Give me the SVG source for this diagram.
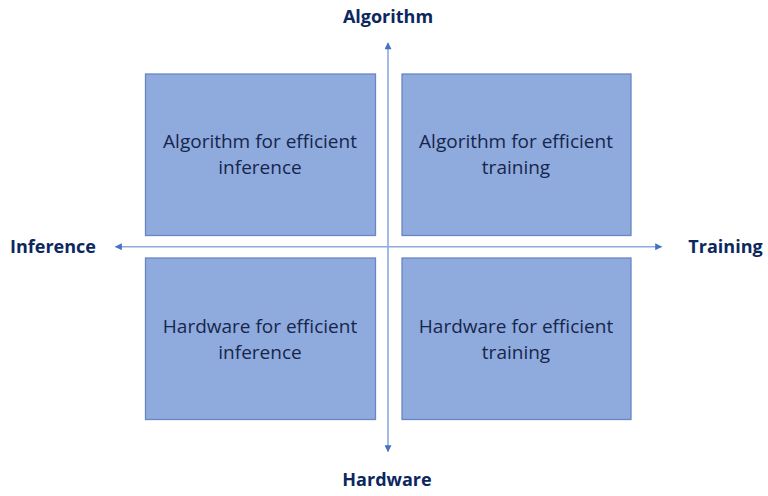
<svg xmlns="http://www.w3.org/2000/svg" width="768" height="496" viewBox="0 0 768 496">
<style>
.box{fill:#8FAADC;stroke:#6A86C2;stroke-width:1.3}
.bt{font-family:"Open Sans","Liberation Sans",sans-serif;font-size:19px;fill:#15264D;text-anchor:middle}
.lbl{font-family:"Open Sans","Liberation Sans",sans-serif;font-size:18px;font-weight:bold;fill:#0C2760;text-anchor:middle}
.ax{stroke:#8FAADC;stroke-width:1.6;fill:none}
</style>
<defs>
<marker id="ah" viewBox="0 0 10 10" refX="9" refY="5" markerWidth="8" markerHeight="7" markerUnits="userSpaceOnUse" orient="auto">
<path d="M0,0 L10,5 L0,10 Z" fill="#4472C4"/>
</marker>
</defs>
<g id="connectors">
<line class="ax" x1="388" y1="246.7" x2="388" y2="43" marker-end="url(#ah)"/>
<line class="ax" x1="388" y1="246.7" x2="388" y2="451.5" marker-end="url(#ah)"/>
<line class="ax" x1="388" y1="246.7" x2="115.5" y2="246.7" marker-end="url(#ah)"/>
<line class="ax" x1="388" y1="246.7" x2="661.5" y2="246.7" marker-end="url(#ah)"/>
</g>
<g id="node-alg-inf">
<rect class="box" x="145.5" y="74" width="230" height="161.5"/>
<text class="bt" x="260" y="148">Algorithm for efficient</text>
<text class="bt" x="260" y="174">inference</text>
</g>
<g id="node-alg-train">
<rect class="box" x="402" y="74" width="229" height="161.5"/>
<text class="bt" x="516" y="148">Algorithm for efficient</text>
<text class="bt" x="516" y="174">training</text>
</g>
<g id="node-hw-inf">
<rect class="box" x="145.5" y="258" width="230" height="161.5"/>
<text class="bt" x="260" y="332.7">Hardware for efficient</text>
<text class="bt" x="260" y="358.5">inference</text>
</g>
<g id="node-hw-train">
<rect class="box" x="402" y="258" width="229" height="161.5"/>
<text class="bt" x="516" y="332.7">Hardware for efficient</text>
<text class="bt" x="516" y="358.5">training</text>
</g>
<g id="label-algorithm"><text class="lbl" x="388" y="22.7">Algorithm</text></g>
<g id="label-hardware"><text class="lbl" x="387" y="486">Hardware</text></g>
<g id="label-inference"><text class="lbl" x="53" y="253">Inference</text></g>
<g id="label-training"><text class="lbl" x="725.5" y="253">Training</text></g>
</svg>
